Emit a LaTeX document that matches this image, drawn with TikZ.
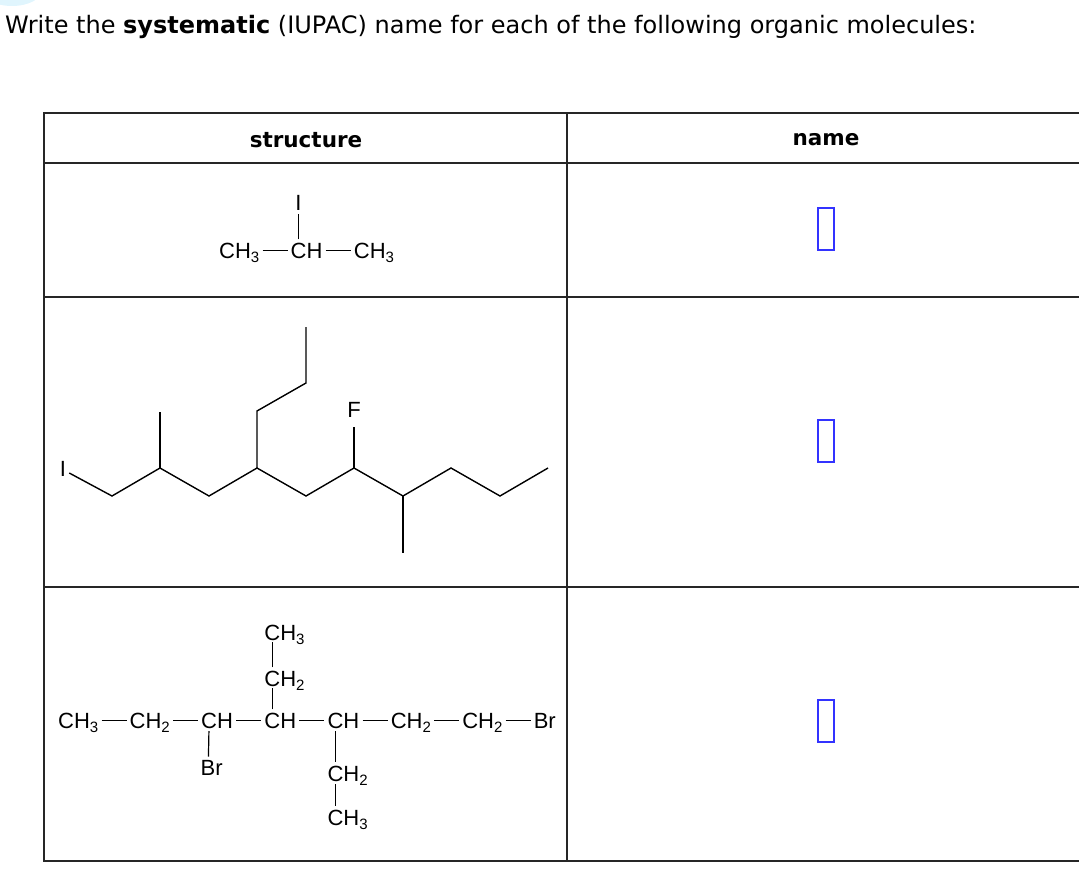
\documentclass[tikz,border=0pt]{standalone}
\usepackage{fontspec}
\setmainfont{DejaVu Sans}
\newfontfamily\chemf{Liberation Sans}
\newcommand{\chsub}[1]{\raisebox{-4.5pt}{\fontsize{15}{15}\selectfont #1}}
\begin{document}
\begin{tikzpicture}[x=1pt,y=-1pt,
  grid/.style={line width=1.8pt,black!85},
  bond/.style={line width=1.2pt},
  chem/.style={font=\chemf\fontsize{22}{22}\selectfont,inner sep=0pt,anchor=base west},
  sk/.style={line width=1.4pt},
  blank/.style={draw=blue!80,line width=1.6pt,minimum width=16pt,minimum height=42pt,inner sep=0pt},
  head/.style={font=\fontsize{21.5}{21}\selectfont\bfseries}]
\useasboundingbox (0,0) rectangle (1079,886);
\fill[cyan!12] (12,-10) ellipse (30 and 16);
\node[anchor=base west,inner sep=0pt,font=\fontsize{24}{24}\selectfont] (title) at (5,33) {Write the \textbf{systematic} (IUPAC) name for each of the following organic molecules:};
% table
\draw[grid] (1079,113) -- (44,113) -- (44,861) -- (1079,861);
\draw[grid] (44,163) -- (1079,163);
\draw[grid] (44,297) -- (1079,297);
\draw[grid] (44,587) -- (1079,587);
\draw[grid] (567,113) -- (567,861);
\node[head] (hs) at (306,140) {structure};
\node[head] (hn) at (826,140) {name};
\node[blank] (b1) at (826,229) {};
\node[blank] (b2) at (826,441) {};
\node[blank] (b3) at (826,721) {};
% row 1
\node[chem] (r1a) at (219,258) {CH\chsub{3}};
\node[chem] (r1b) at ([xshift=31pt]r1a.base east) {CH};
\node[chem] (r1c) at ([xshift=31pt]r1b.base east) {CH\chsub{3}};
\node[chem,anchor=base] (r1i) at ([xshift=7.9pt]r1b.base west |- 0,210) {I};
\draw[bond,shorten <=3pt,shorten >=3pt] (r1a.east |- r1b.east) -- (r1b.west);
\draw[bond,shorten <=3pt,shorten >=3pt] (r1b.east) -- (r1c.west |- r1b.west);
\draw[bond] ([xshift=7.9pt,yshift=3pt]r1b.north west) -- (r1i.south |- 0,214);
% row 2 skeleton
\node[chem,anchor=center] (iod) at (63,469) {I};
\node[chem,anchor=center] (flu) at (354,410) {F};
\coordinate (a) at (112,496); \coordinate (b) at (160,468);
\coordinate (c) at (209,496); \coordinate (d) at (257,468);
\coordinate (e) at (306,496); \coordinate (f) at (354,468);
\coordinate (g) at (403,496); \coordinate (h) at (451,468);
\coordinate (i) at (500,496); \coordinate (j) at (548,468);
\coordinate (bm) at (160,412); \coordinate (p1) at (257,411);
\coordinate (p2) at (306,383); \coordinate (p3) at (306,327);
\coordinate (gm) at (403,553); \coordinate (fe) at (354,427);
\draw[sk,line join=miter] (iod.east) ++(3,4) -- (a) -- (b) -- (c) -- (d) -- (e) -- (f) -- (g) -- (h) -- (i) -- (j);
\draw[sk] (b) -- (bm);
\draw[sk,line join=miter] (d) -- (p1) -- (p2) -- (p3);
\draw[sk] (f) -- (fe);
\draw[sk] (g) -- (gm);
% row 3
\node[chem] (m1) at (58,728) {CH\chsub{3}};
\node[chem] (m2) at ([xshift=31pt]m1.base east) {CH\chsub{2}};
\node[chem] (m3) at ([xshift=31pt]m2.base east) {CH};
\node[chem] (m4) at ([xshift=31pt]m3.base east) {CH};
\node[chem] (m5) at ([xshift=31pt]m4.base east) {CH};
\node[chem] (m6) at ([xshift=31pt]m5.base east) {CH\chsub{2}};
\node[chem] (m7) at ([xshift=31pt]m6.base east) {CH\chsub{2}};
\node[chem] (m8) at ([xshift=31pt]m7.base east) {Br};
\foreach \p/\q in {m1/m2,m2/m3,m3/m4,m4/m5,m5/m6,m6/m7,m7/m8}
  \draw[bond,shorten <=3pt,shorten >=3pt] (\p.east |- m3.east) -- (\q.west |- m3.west);
\node[chem] (br1) at ([xshift=-0.5pt]m3.base west |- 0,775) {Br};
\node[chem] (u1) at (m4.base west |- 0,686) {CH\chsub{2}};
\node[chem] (u2) at (m4.base west |- 0,640) {CH\chsub{3}};
\node[chem] (d1) at (m5.base west |- 0,781) {CH\chsub{2}};
\node[chem] (d2) at (m5.base west |- 0,825) {CH\chsub{3}};
\draw[bond] ([xshift=7.9pt,yshift=-3pt]m3.base west) -- ([xshift=7.9pt,yshift=3pt]br1.north west);
\draw[bond] ([xshift=7.9pt,yshift=3pt]m4.north west) -- ([xshift=7.9pt,yshift=-2pt]u1.base west);
\draw[bond] ([xshift=7.9pt,yshift=3pt]u1.north west) -- ([xshift=7.9pt,yshift=-2pt]u2.base west);
\draw[bond] ([xshift=7.9pt,yshift=-3pt]m5.base west) -- ([xshift=7.9pt,yshift=3pt]d1.north west);
\draw[bond] ([xshift=7.9pt,yshift=-3pt]d1.base west) -- ([xshift=7.9pt,yshift=3pt]d2.north west);
\end{tikzpicture}
\end{document}
